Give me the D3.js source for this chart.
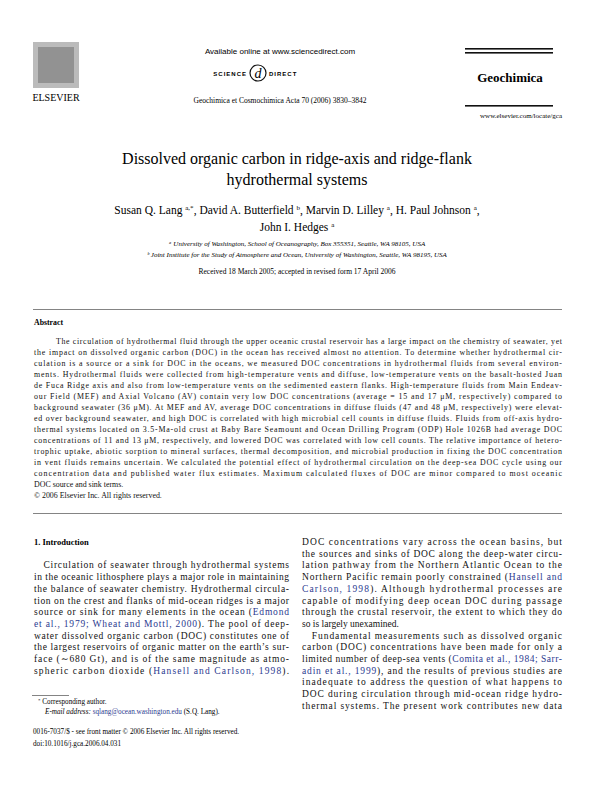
<!DOCTYPE html>
<html><head><meta charset="utf-8">
<script src="https://cdn.jsdelivr.net/npm/d3@7"></script>
<style>body{margin:0;background:#fff}</style></head>
<body><div id="page"></div>
<script>
var svg = d3.select('#page').append('svg').attr('width', 595).attr('height', 794)
  .style('font-family', '"Liberation Serif", "DejaVu Serif", serif');

var blue = '#2b3a8f';

var abstractLines = [
  'The circulation of hydrothermal fluid through the upper oceanic crustal reservoir has a large impact on the chemistry of seawater, yet',
  'the impact on dissolved organic carbon (DOC) in the ocean has received almost no attention. To determine whether hydrothermal cir-',
  'culation is a source or a sink for DOC in the oceans, we measured DOC concentrations in hydrothermal fluids from several environ-',
  'ments. Hydrothermal fluids were collected from high-temperature vents and diffuse, low-temperature vents on the basalt-hosted Juan',
  'de Fuca Ridge axis and also from low-temperature vents on the sedimented eastern flanks. High-temperature fluids from Main Endeav-',
  'our Field (MEF) and Axial Volcano (AV) contain very low DOC concentrations (average = 15 and 17 \u03BCM, respectively) compared to',
  'background seawater (36 \u03BCM). At MEF and AV, average DOC concentrations in diffuse fluids (47 and 48 \u03BCM, respectively) were elevat-',
  'ed over background seawater, and high DOC is correlated with high microbial cell counts in diffuse fluids. Fluids from off-axis hydro-',
  'thermal systems located on 3.5-Ma-old crust at Baby Bare Seamount and Ocean Drilling Program (ODP) Hole 1026B had average DOC',
  'concentrations of 11 and 13 \u03BCM, respectively, and lowered DOC was correlated with low cell counts. The relative importance of hetero-',
  'trophic uptake, abiotic sorption to mineral surfaces, thermal decomposition, and microbial production in fixing the DOC concentration',
  'in vent fluids remains uncertain. We calculated the potential effect of hydrothermal circulation on the deep-sea DOC cycle using our',
  'concentration data and published water flux estimates. Maximum calculated fluxes of DOC are minor compared to most oceanic',
  'DOC source and sink terms.',
  '\u00A9 2006 Elsevier Inc. All rights reserved.'
];

var leftLines = [
  '   Circulation of seawater through hydrothermal systems',
  'in the oceanic lithosphere plays a major role in maintaining',
  'the balance of seawater chemistry. Hydrothermal circula-',
  'tion on the crest and flanks of mid-ocean ridges is a major',
  'source or sink for many elements in the ocean ({Edmond}',
  '{et al., 1979; Wheat and Mottl, 2000}). The pool of deep-',
  'water dissolved organic carbon (DOC) constitutes one of',
  'the largest reservoirs of organic matter on the earth\u2019s sur-',
  'face (\u223C680 Gt), and is of the same magnitude as atmo-',
  'spheric carbon dioxide ({Hansell and Carlson, 1998}).'
];

var rightLines = [
  'DOC concentrations vary across the ocean basins, but',
  'the sources and sinks of DOC along the deep-water circu-',
  'lation pathway from the Northern Atlantic Ocean to the',
  'Northern Pacific remain poorly constrained ({Hansell and}',
  '{Carlson, 1998}). Although hydrothermal processes are',
  'capable of modifying deep ocean DOC during passage',
  'through the crustal reservoir, the extent to which they do',
  'so is largely unexamined.',
  '   Fundamental measurements such as dissolved organic',
  'carbon (DOC) concentrations have been made for only a',
  'limited number of deep-sea vents ({Comita et al., 1984; Sarr-}',
  '{adin et al., 1999}), and the results of previous studies are',
  'inadequate to address the question of what happens to',
  'DOC during circulation through mid-ocean ridge hydro-',
  'thermal systems. The present work contributes new data'
];
var lastRight = [7];

// write a line with {blue} spans, optionally justified
function line(g, str, x, y, w, size, justify) {
  var t = g.append('text').attr('x', x).attr('y', y).attr('font-size', size)
    .attr('xml:space', 'preserve').attr('fill', '#111');
  str.split(/(\{[^}]*\})/).forEach(function (p) {
    if (!p) return;
    var isBlue = p[0] === '{';
    t.append('tspan').attr('fill', isBlue ? blue : null).text(isBlue ? p.slice(1, -1) : p);
  });
  if (justify) t.attr('textLength', w).attr('lengthAdjust', 'spacing');
  return t;
}

// header
var e = svg.append('g');
e.append('rect').attr('x', 33).attr('y', 42).attr('width', 46).attr('height', 46).attr('fill', '#bbb');
e.append('rect').attr('x', 38).attr('y', 47).attr('width', 36).attr('height', 36).attr('fill', '#777').attr('opacity', 0.6);
e.append('text').attr('x', 56).attr('y', 101).attr('text-anchor', 'middle').attr('font-size', 10).text('ELSEVIER');
e.append('text').attr('x', 280).attr('y', 54).attr('text-anchor', 'middle').attr('font-size', 8)
  .style('font-family', '"Liberation Sans", sans-serif').text('Available online at www.sciencedirect.com');
e.append('text').attr('x', 247).attr('y', 76).attr('text-anchor', 'end').attr('font-size', 6).attr('font-weight', 'bold')
  .style('font-family', '"Liberation Sans", sans-serif').attr('letter-spacing', 1).text('SCIENCE');
e.append('circle').attr('cx', 258).attr('cy', 73).attr('r', 8).attr('fill', 'none').attr('stroke', '#111').attr('stroke-width', 1.2);
e.append('text').attr('x', 258).attr('y', 78).attr('text-anchor', 'middle').attr('font-size', 14).attr('font-style', 'italic').text('d');
e.append('text').attr('x', 269).attr('y', 76).attr('font-size', 6).attr('font-weight', 'bold')
  .style('font-family', '"Liberation Sans", sans-serif').attr('letter-spacing', 1).text('DIRECT');
e.append('text').attr('x', 280).attr('y', 103).attr('text-anchor', 'middle').attr('font-size', 7.5)
  .text('Geochimica et Cosmochimica Acta 70 (2006) 3830\u20133842');
e.append('rect').attr('x', 465).attr('y', 48).attr('width', 88).attr('height', 1.6).attr('fill', '#111');
e.append('rect').attr('x', 465).attr('y', 52).attr('width', 88).attr('height', 1.6).attr('fill', '#111');
e.append('text').attr('x', 510).attr('y', 82).attr('text-anchor', 'middle').attr('font-size', 13).attr('font-weight', 'bold').text('Geochimica');
e.append('rect').attr('x', 465).attr('y', 105).attr('width', 88).attr('height', 1.6).attr('fill', '#111');
e.append('text').attr('x', 562).attr('y', 118).attr('text-anchor', 'end').attr('font-size', 7).text('www.elsevier.com/locate/gca');

// title block
var c = svg.append('g').attr('text-anchor', 'middle');
c.append('text').attr('x', 297).attr('y', 164).attr('font-size', 16).text('Dissolved organic carbon in ridge-axis and ridge-flank');
c.append('text').attr('x', 297).attr('y', 185).attr('font-size', 16).text('hydrothermal systems');
function sup(t, s) { t.append('tspan').attr('font-size', 7).attr('dy', -4).text(s); }
var a1 = c.append('text').attr('x', 297).attr('y', 214).attr('font-size', 11.5);
a1.append('tspan').text('Susan Q. Lang '); sup(a1, 'a,*');
a1.append('tspan').attr('dy', 4).text(', David A. Butterfield '); sup(a1, 'b');
a1.append('tspan').attr('dy', 4).text(', Marvin D. Lilley '); sup(a1, 'a');
a1.append('tspan').attr('dy', 4).text(', H. Paul Johnson '); sup(a1, 'a');
a1.append('tspan').attr('dy', 4).text(',');
var a2 = c.append('text').attr('x', 297).attr('y', 231).attr('font-size', 11.5);
a2.append('tspan').text('John I. Hedges '); sup(a2, 'a');
c.append('text').attr('x', 297).attr('y', 246).attr('font-size', 7).attr('font-style', 'italic')
  .text('\u1D43 University of Washington, School of Oceanography, Box 355351, Seattle, WA 98105, USA');
c.append('text').attr('x', 297).attr('y', 257).attr('font-size', 7).attr('font-style', 'italic')
  .text('\u1D47 Joint Institute for the Study of Atmosphere and Ocean, University of Washington, Seattle, WA 98195, USA');
c.append('text').attr('x', 297).attr('y', 274).attr('font-size', 7.5)
  .text('Received 18 March 2005; accepted in revised form 17 April 2006');

// abstract
svg.append('rect').attr('x', 33).attr('y', 309).attr('width', 529).attr('height', 0.6).attr('fill', '#333');
svg.append('text').attr('x', 34).attr('y', 325).attr('font-size', 7.8).attr('font-weight', 'bold').text('Abstract');
var yAbs = d3.scaleLinear().domain([0, 14]).range([344, 498]);
var ab = svg.append('g');
abstractLines.forEach(function (s, i) {
  var x = i === 0 ? 56 : 34;
  line(ab, s, x, yAbs(i), 562 - x, 7.9, i < 13);
});
svg.append('rect').attr('x', 33).attr('y', 513).attr('width', 529).attr('height', 0.6).attr('fill', '#333');

// body
svg.append('text').attr('x', 34).attr('y', 545).attr('font-size', 8.5).attr('font-weight', 'bold').text('1. Introduction');
var yBody = d3.scaleLinear().domain([0, 1]).range([545, 556.7]);
var lg = svg.append('g');
leftLines.forEach(function (s, i) {
  line(lg, s, 34, yBody(i + 2), 255, 9.5, true);
});
var rg = svg.append('g');
rightLines.forEach(function (s, i) {
  line(rg, s, 302, yBody(i), 260, 9.5, lastRight.indexOf(i) < 0);
});

// footnotes
svg.append('rect').attr('x', 32).attr('y', 695).attr('width', 37).attr('height', 0.6).attr('fill', '#333');
var fn = svg.append('g').attr('font-size', 7.2);
var f1 = fn.append('text').attr('x', 38).attr('y', 704);
f1.append('tspan').attr('font-size', 5).attr('dy', -2).text('*');
f1.append('tspan').attr('dy', 2).text('  Corresponding author.');
var f2 = fn.append('text').attr('x', 45).attr('y', 714);
f2.append('tspan').attr('font-style', 'italic').text('E-mail address: ');
f2.append('tspan').attr('fill', blue).text('sqlang@ocean.washington.edu');
f2.append('tspan').text(' (S.Q. Lang).');
fn.append('text').attr('x', 33).attr('y', 734).text('0016-7037/$ - see front matter \u00A9 2006 Elsevier Inc. All rights reserved.');
fn.append('text').attr('x', 33).attr('y', 746).text('doi:10.1016/j.gca.2006.04.031');
</script></body></html>
